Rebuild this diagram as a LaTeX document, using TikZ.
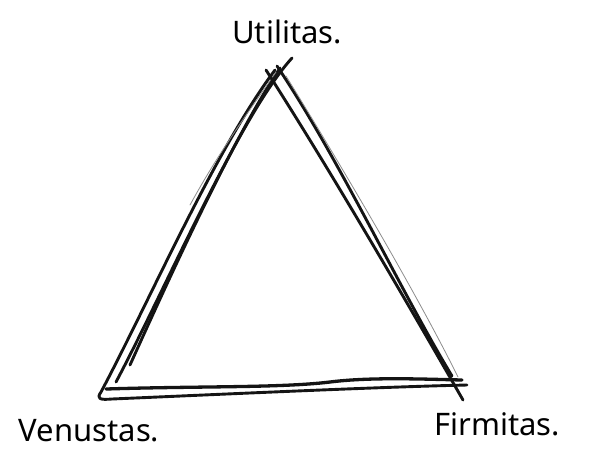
\documentclass[tikz,border=0pt]{standalone}
\usepackage{fontspec}
\setmainfont{Noto Sans}
\begin{document}
\begin{tikzpicture}[x=1pt,y=-1pt,
  stroke/.style={line width=2.9pt, line cap=round, line join=round, black!92},
  faint/.style={line width=0.8pt, line cap=round, black!45},
  lbl/.style={font=\fontsize{31}{36}\selectfont, inner sep=0pt, anchor=base}]
\useasboundingbox (0,0) rectangle (596,467);
\node[lbl] (u) at (287,43) {Utilitas.};
\node[lbl] (v) at (89,441) {Venustas.};
\node[lbl] (f) at (497,435) {Firmitas.};
% left edge
\draw[stroke] (292,58) .. controls (240,115) and (165,290) .. (116,382);
\draw[stroke] (280,68) .. controls (235,135) and (175,265) .. (130,365);
\draw[stroke] (275,70) .. controls (215,150) and (150,300) .. (101,392)
   .. controls (96,399) and (100,400) .. (112,399)
   .. controls (250,393) and (380,387) .. (467,385);
\draw[faint] (276,72) .. controls (250,110) and (220,150) .. (190,205);
% right edge
\draw[stroke] (266,70) .. controls (330,170) and (400,290) .. (463,400);
\draw[stroke] (277,66) .. controls (340,160) and (400,290) .. (452,376);
\draw[faint] (286,76) .. controls (350,180) and (420,300) .. (458,377);
% bottom
\draw[stroke, line width=3.3pt] (106,389) .. controls (200,386) and (280,388) .. (330,382)
   .. controls (370,377) and (420,379) .. (462,380);
\end{tikzpicture}
\end{document}
